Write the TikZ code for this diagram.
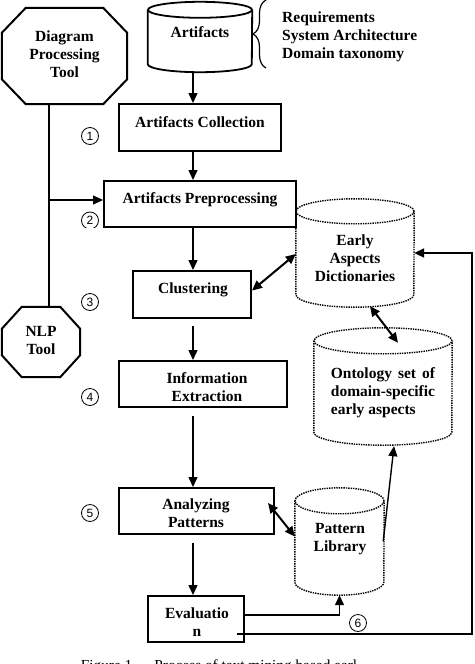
\documentclass[tikz,border=0pt]{standalone}
\usepackage{fontspec}
\setmainfont{Liberation Serif}
\setsansfont{Liberation Sans}
\usetikzlibrary{arrows.meta,calc,decorations.pathreplacing}
\newcommand{\octpath}[4]{% style, node, chamfer x, chamfer y
  \draw[#1] ($(#2.north west)+(#3,0)$) -- ($(#2.north east)+(-#3,0)$) -- ($(#2.north east)+(0,#4)$) -- ($(#2.south east)+(0,-#4)$) -- ($(#2.south east)+(-#3,0)$) -- ($(#2.south west)+(#3,0)$) -- ($(#2.south west)+(0,-#4)$) -- ($(#2.north west)+(0,#4)$) -- cycle;}
\newcommand{\cylpath}[4]{% style, node, rx, ry
  \draw[#1] ($(#2.north)+(0,#4)$) ellipse[x radius=#3pt, y radius=#4pt];
  \draw[#1] ($(#2.north west)+(0,#4)$) -- ($(#2.south west)+(0,-#4)$) arc[start angle=180, end angle=360, x radius=#3pt, y radius=#4pt] -- ($(#2.north east)+(0,#4)$);}
\begin{document}
\begin{tikzpicture}[x=1pt,y=-1pt,
  txt/.style={font=\bfseries\fontsize{15.5}{18}\selectfont, align=center, inner sep=0},
  box/.style={draw, line width=2pt, inner sep=0},
  shapebox/.style={inner sep=0},
  octo/.style={line width=2pt},
  solidcyl/.style={line width=1.8pt},
  dotcyl/.style={line width=1.4pt, densely dotted},
  arr/.style={line width=1.4pt, -{Triangle[length=10pt,width=9pt]}},
  darr/.style={line width=2pt, {Triangle[length=10pt,width=9pt]}-{Triangle[length=10pt,width=9pt]}},
  plain/.style={line width=1.4pt},
  numc/.style={circle, draw, line width=0.8pt, minimum size=17pt, inner sep=0, font=\sffamily\fontsize{12}{12}\selectfont},
  caption/.style={font=\fontsize{15.3}{18}\selectfont, inner sep=0}
]
\useasboundingbox (0,0) rectangle (474,664);

% helper coordinates
\coordinate (colx) at (193,0);
\coordinate (vx) at (49,0);
\coordinate (rx) at (472,0);
\coordinate (br) at (49,200);

% octagons
\node[shapebox, txt, minimum width=125pt, minimum height=96pt] (dpt) at (64.5,56) {\strut Diagram\\\strut Processing\\\strut Tool};
\octpath{octo}{dpt}{24}{25}
\node[shapebox, txt, minimum width=78pt, minimum height=70pt] (nlp) at (41,342) {\strut NLP\\\strut Tool};
\octpath{octo}{nlp}{20}{22}

% cylinders
\node[shapebox, minimum width=104pt, minimum height=70pt] (art) at (200,37) {};
\cylpath{solidcyl}{art}{52}{8}
\node[txt] (artT) at (200,33.8) {\strut Artifacts};

\node[shapebox, minimum width=118pt, minimum height=108pt] (early) at (355,253) {};
\cylpath{dotcyl}{early}{59}{12.5}
\node[txt] (earlyT) at (355,260) {\strut Early\\\strut Aspects\\\strut Dictionaries};

\node[shapebox, minimum width=138pt, minimum height=117pt] (onto) at (383,386.5) {};
\cylpath{dotcyl}{onto}{69}{13}
\node[txt, align=left] (ontoT) at (383,392.8) {\setbox0\hbox{domain-specific}\strut\hbox to \wd0{Ontology\hfill set\hfill of}\\\strut domain-specific\\\strut early aspects};

\node[shapebox, minimum width=89pt, minimum height=107pt] (patt) at (339.5,541.5) {};
\cylpath{dotcyl}{patt}{44.5}{13}
\node[txt] (pattT) at (340,539.3) {\strut Pattern\\\strut Library};

% brace and list
\draw[line width=1.2pt, decorate, decoration={brace, amplitude=13pt}] (266,68) -- (266,0);
\node[txt, align=left, anchor=west] (reqT) at (282,36.5) {\strut Requirements\\\strut System Architecture\\\strut Domain taxonomy};

% process boxes
\node[box, minimum width=162pt, minimum height=47pt] (coll) at (200,127.5) {};
\node[txt] (collT) at (200,123.8) {\strut Artifacts Collection};
\node[box, minimum width=192pt, minimum height=46pt] (prep) at (200,204) {};
\node[txt] (prepT) at (200,199.8) {\strut Artifacts Preprocessing};
\node[box, minimum width=118pt, minimum height=47pt] (clus) at (192,294.5) {};
\node[txt] (clusT) at (193,289.8) {\strut Clustering};
\node[box, minimum width=168pt, minimum height=46pt] (info) at (203,384) {};
\node[txt] (infoT) at (207,388.8) {\strut Information\\\strut Extraction};
\node[box, minimum width=155pt, minimum height=46pt] (anal) at (196.5,511) {};
\node[txt] (analT) at (196,515.3) {\strut Analyzing\\\strut Patterns};
\node[box, minimum width=96pt, minimum height=46pt] (eval) at (196,619) {};
\node[txt] (evalT) at (197,624.3) {\strut Evaluatio\\\strut n};

% step numbers
\node[numc] (n1) at (90,136) {1};
\begin{scope}
  \clip (70,200) rectangle (110,227);
  \node[numc] (n2) at (90,220.5) {2};
\end{scope}
\node[numc] (n3) at (90,302) {3};
\node[numc] (n4) at (90,397) {4};
\node[numc] (n5) at (90,513) {5};
\node[numc] (n6) at (358,623) {6};

% main flow
\draw[arr] (art.south -| colx) -- (coll.north -| colx);
\draw[arr] (coll.south -| colx) -- (prep.north -| colx);
\draw[arr] (prep.south -| colx) -- (clus.north -| colx);
\draw[arr, shorten <=7pt] (clus.south -| colx) -- (info.north -| colx);
\draw[arr, shorten <=8pt] (info.south -| colx) -- (anal.north -| colx);
\draw[arr, shorten <=8pt] (anal.south -| colx) -- (eval.north -| colx);

% tools
\draw[plain] (dpt.south -| vx) -- (nlp.north -| vx);
\draw[arr] (br) -- (br -| prep.west);

% repository links
\draw[darr] ($(clus.east)+(0,-4)$) -- ($(early.west)+(0,1)$);
\draw[darr] ($(early.south)+(15,-1)$) -- ($(onto.north)+(15,15)$);
\draw[darr] ($(anal.east)+(-7,-8)$) -- ($(patt.west)+(0,-5)$);
\draw[arr] ($(patt.east)+(-1,0)$) -- ($(onto.south)+(11,1)$);
\draw[arr] ($(eval.east)+(0,-4)$) -| (patt.south);
\draw[arr, line width=2pt] ($(eval.south east)+(-8,-9)$) -| (rx |- early.east) -- (early.east);

% caption (cut by the lower edge, as in the reference)
\node[caption] (cap) at (219,666.4) {\strut Figure 1.\hspace{1.2em}Process of text mining based earl};
\end{tikzpicture}
\end{document}
